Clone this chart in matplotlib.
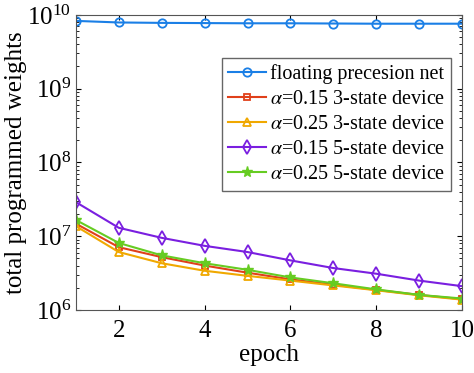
import matplotlib.pyplot as plt

plt.rcParams["font.family"] = ["Liberation Serif", "DejaVu Serif"]
plt.rcParams["mathtext.fontset"] = "stix"

epochs = [1, 2, 3, 4, 5, 6, 7, 8, 9, 10]
floating = [8.3e9, 7.9e9, 7.8e9, 7.75e9, 7.7e9, 7.7e9, 7.65e9, 7.6e9, 7.6e9, 7.6e9]
a15_3state = [1.48e7, 7.1e6, 5.2e6, 4.0e6, 3.2e6, 2.6e6, 2.2e6, 1.87e6, 1.6e6, 1.4e6]
a25_3state = [1.37e7, 6.1e6, 4.3e6, 3.4e6, 2.9e6, 2.5e6, 2.15e6, 1.85e6, 1.58e6, 1.38e6]
a15_5state = [2.9e7, 1.3e7, 9.5e6, 7.4e6, 6.1e6, 4.7e6, 3.7e6, 3.1e6, 2.5e6, 2.1e6]
a25_5state = [1.66e7, 8.1e6, 5.5e6, 4.3e6, 3.5e6, 2.76e6, 2.3e6, 1.9e6, 1.6e6, 1.43e6]

labels = ["floating precesion net",
          r"$\alpha$=0.15 3-state device",
          r"$\alpha$=0.25 3-state device",
          r"$\alpha$=0.15 5-state device",
          r"$\alpha$=0.25 5-state device"]

fig = plt.figure(figsize=(4.74, 3.73), dpi=100)
ax = fig.add_axes([0.160, 0.169, 0.815, 0.791])

ax.plot(epochs, floating, color="#1a7fe6", marker="o", ms=6, mfc="none", mew=1.3, lw=1.5, label=labels[0])
ax.plot(epochs, a15_3state, color="#e0401a", marker="s", ms=5, mfc="none", mew=1.3, lw=1.5, label=labels[1])
ax.plot(epochs, a25_3state, color="#f0a800", marker="^", ms=6, mfc="none", mew=1.3, lw=1.5, label=labels[2])
ax.plot(epochs, a15_5state, color="#7a1fe0", marker="d", ms=7, mfc="none", mew=1.3, lw=1.5, label=labels[3])
ax.plot(epochs, a25_5state, color="#66cc22", marker="*", ms=8, mew=1.0, lw=1.5, label=labels[4])

ax.set_yscale("log")
ax.set_xlim(1, 10)
ax.set_ylim(1e6, 1e10)
ax.set_xticks([2, 4, 6, 8, 10])
ax.tick_params(which="both", direction="in", top=True, right=True, labelsize=18)
ax.tick_params(axis="x", pad=7)
ax.tick_params(which="minor", length=2.5)
ax.set_xlabel("epoch", fontsize=18, labelpad=2)
ax.set_ylabel("total programmed weights", fontsize=18, labelpad=0)
for s in ax.spines.values():
    s.set_color("#555555")

leg = ax.legend(loc="upper left", bbox_to_anchor=(0.378, 0.854), fontsize=14.5,
                fancybox=False, framealpha=1, edgecolor="#666666",
                handlelength=1.9, handletextpad=0.2, borderpad=0.3,
                labelspacing=0.3, borderaxespad=0)

fig.savefig("out.png", dpi=100)
